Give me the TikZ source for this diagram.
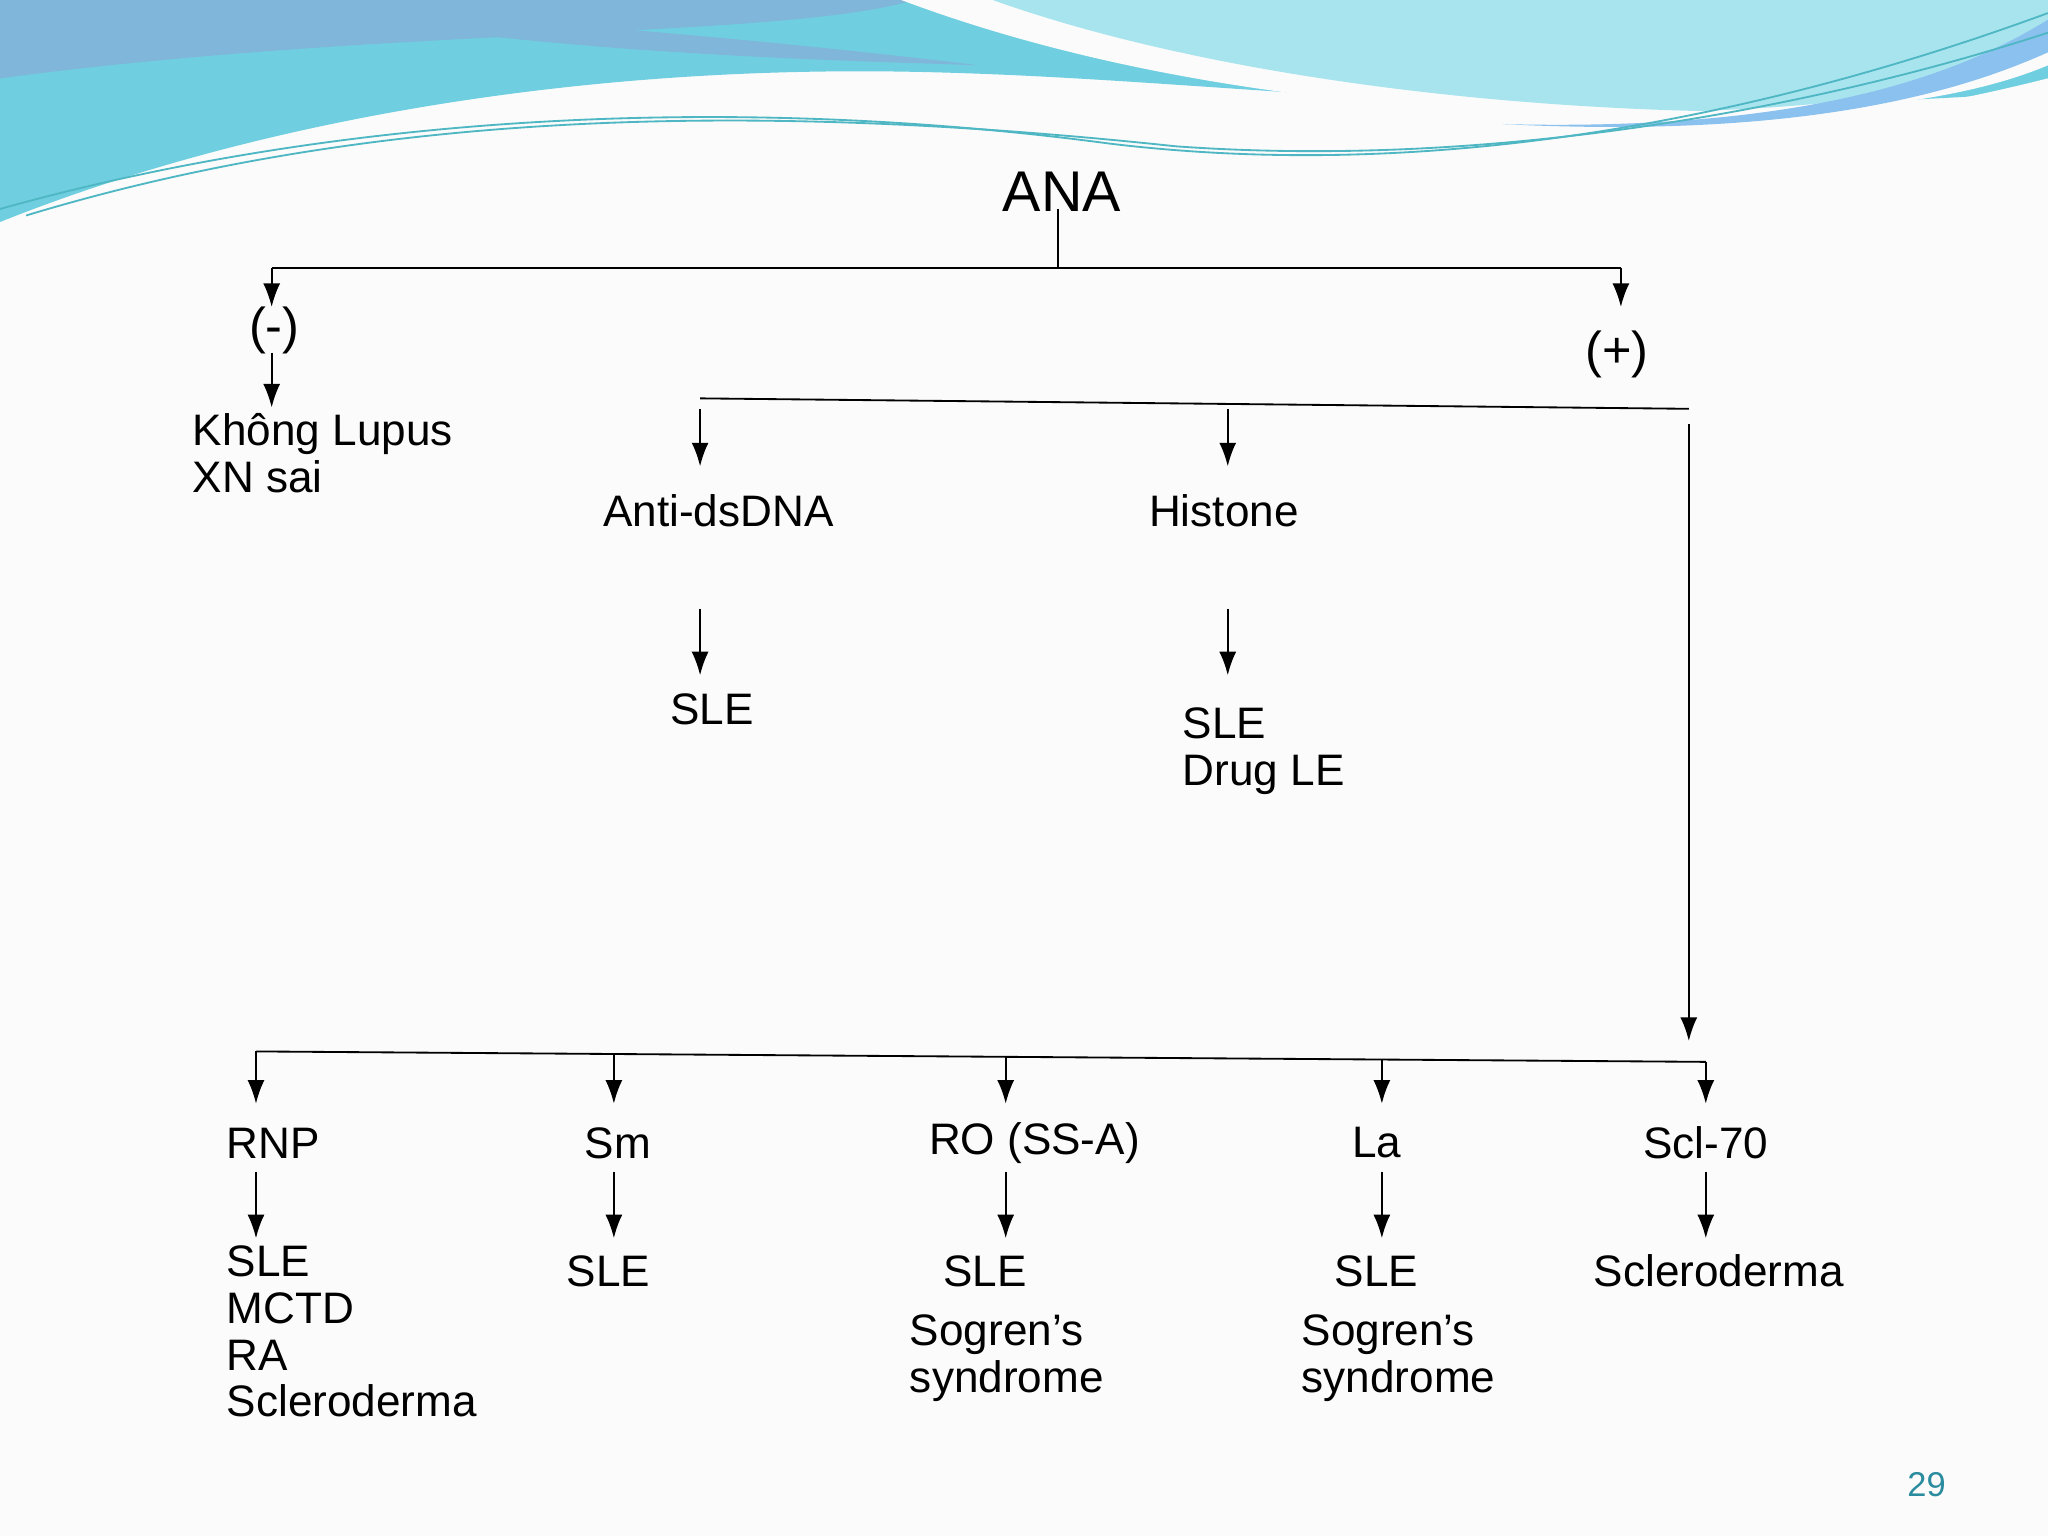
\documentclass[tikz,border=0pt]{standalone}
\usepackage{fontspec}
\setmainfont{Liberation Sans}
\usetikzlibrary{positioning, arrows.meta}
\definecolor{wave}{HTML}{6FCFE0}
\definecolor{wavedeep}{HTML}{7FB6DA}
\definecolor{wavelight}{HTML}{A8E4EE}
\definecolor{pagenum}{HTML}{2A8C9E}
\tikzset{lbl/.style={font=\fontsize{9.6}{10.2}\selectfont,inner sep=0pt,align=left},
  arr/.style={-{Latex[length=1.8mm,width=1.3mm]},thin},
  ln/.style={thin}}
\begin{document}
\begin{tikzpicture}[x=0.01cm,y=-0.01cm]
    \useasboundingbox[fill=white!97!gray] (0,0) rectangle (1568,1176);
    % top waves
    \fill[wave] (0,0) -- (0,170) .. controls (200,90) and (450,50) .. (700,55) .. controls (950,60) and (1150,100) .. (1568,70) -- (1568,0) -- cycle;
    \fill[wavedeep] (0,0) -- (700,0) .. controls (600,30) and (300,20) .. (0,60) -- cycle;
    \fill[wavedeep] (180,0) .. controls (400,40) and (600,45) .. (750,50) .. controls (500,20) and (300,10) .. (180,0);
    \fill[white!97!gray] (690,0) .. controls (850,60) and (1050,90) .. (1300,90) .. controls (1450,85) and (1520,70) .. (1568,50) -- (1568,0) -- cycle;
    \fill[wavelight] (760,0) .. controls (900,50) and (1100,80) .. (1300,85) .. controls (1450,80) and (1520,60) .. (1568,40) -- (1568,0) -- cycle;
    \fill[wave!80!blue!70] (1150,95) .. controls (1350,100) and (1480,70) .. (1568,15) -- (1568,40) .. controls (1480,80) and (1350,105) .. (1150,95) -- cycle;
    \fill[white!97!gray] (0,175) .. controls (250,100) and (550,70) .. (850,105) .. controls (1100,125) and (1350,115) .. (1568,60) -- (1568,80) .. controls (1350,130) and (1100,130) .. (800,118) .. controls (500,105) and (250,120) .. (0,180) -- cycle;
    \draw[wave!70!teal,thin] (0,160) .. controls (250,90) and (550,70) .. (850,110) .. controls (1100,140) and (1350,90) .. (1568,10);
    \draw[wave!70!teal,thin] (20,165) .. controls (300,80) and (600,80) .. (900,112) .. controls (1150,130) and (1400,80) .. (1568,25);

    % nodes
    \node[lbl,font=\fontsize{12.5}{14}\selectfont] (ana) at (813,147) {ANA};
    \node[lbl,font=\fontsize{11}{12}\selectfont] (neg) at (210,253) {(-)};
    \node[lbl,font=\fontsize{11}{12}\selectfont] (pos) at (1238,271) {(+)};
    \node[lbl,anchor=north west] (khong) at (147,316) {Không Lupus\\XN sai};
    \node[lbl] (dsdna) at (550,391) {Anti-dsDNA};
    \node[lbl] (histone) at (937,391) {Histone};
    \node[lbl] (sle1) at (545,543) {SLE};
    \node[lbl,anchor=north west] (sle2) at (905,541) {SLE\\Drug LE};
    \node[lbl,anchor=west] (rnp) at (173,875) {RNP};
    \node[lbl] (sm) at (473,875) {Sm};
    \node[lbl] (ro) at (792,875) {RO (SS-A)};
    \node[lbl] (la) at (1054,875) {La};
    \node[lbl] (scl) at (1306,875) {Scl-70};
    \node[lbl,anchor=north west] (rnpd) at (173,953) {SLE\\MCTD\\RA\\Scleroderma};
    \node[lbl] (smd) at (466,973) {SLE};
    \node[lbl] (rod) at (754,973) {SLE};
    \node[lbl,anchor=north west] (rods) at (696,1006) {Sogren’s\\syndrome};
    \node[lbl] (lad) at (1054,973) {SLE};
    \node[lbl,anchor=north west] (lads) at (996,1006) {Sogren’s\\syndrome};
    \node[lbl] (scld) at (1316,973) {Scleroderma};
    \node[font=\fontsize{7.5}{8}\selectfont,text=pagenum,inner sep=0pt] (page) at (1475,1137) {29};

    % junctions
    \coordinate (a0) at (810,160); \coordinate (a1) at (810,205);
    \coordinate (aL) at (208,205); \coordinate (aR) at (1241,205);
    \coordinate (p0) at (536,305); \coordinate (p1) at (1293,313);
    \coordinate (b0) at (196,805); \coordinate (b1) at (1306,813);

    % top
    \draw[ln] (a0) -- (a1);
    \draw[ln] (aL) -- (aR);
    \draw[arr] (aL) -- (208,235);
    \draw[arr] (aR) -- (1241,235);
    \draw[arr] (208,270) -- (208,312);
    % positive branch
    \draw[ln] (p0) -- (p1);
    \draw[arr] (536,313) -- (536,357);
    \draw[arr] (940,313) -- (940,357);
    \draw[arr] (536,466) -- (536,517);
    \draw[arr] (940,466) -- (940,517);
    \draw[arr] (1293,325) -- (1293,797);
    % bottom row
    \draw[ln] (b0) -- (b1);
    \foreach \x/\y in {196/805,470/807,770/809,1058/811,1306/813}{
      \draw[arr] (\x,\y) -- (\x,845);
      \draw[arr] (\x,897) -- (\x,948);
    }
\end{tikzpicture}
\end{document}
